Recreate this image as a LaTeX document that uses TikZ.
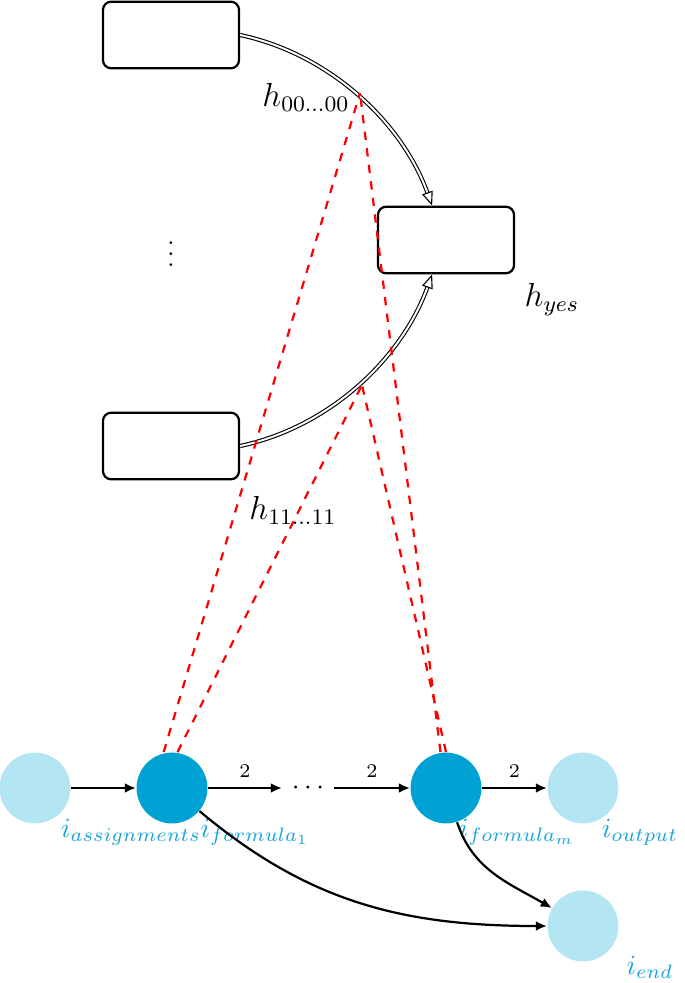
\documentclass[tikz,border=0pt]{standalone}
\usetikzlibrary{arrows.meta}
\definecolor{lightb}{HTML}{B3E5F2}
\definecolor{darkb}{HTML}{00A2D3}
\definecolor{labb}{HTML}{1AA3D6}
\begin{document}
\begin{tikzpicture}[x=0.36pt,y=-0.36pt,
  hbox/.style={draw,thick,rounded corners=3pt,minimum width=49pt,minimum height=24pt,inner sep=0pt},
  lcirc/.style={circle,fill=lightb,minimum size=25.5pt,inner sep=0pt},
  dcirc/.style={circle,fill=darkb,minimum size=25.5pt,inner sep=0pt},
  ilab/.style={text=labb,font=\normalsize},
  arr/.style={-{Latex[length=4pt,width=3.5pt]},thick},
  dbl/.style={double,double distance=0.7pt,-{Triangle[open,length=5pt,width=4pt]}},
  reddash/.style={draw=red,dashed,thick}]
\useasboundingbox (0,0) rectangle (685,983);
\node[hbox] (b1) at (171,35) {};
\node[hbox] (by) at (446,240) {};
\node[hbox] (b2) at (171,446) {};
\node[font=\small] (vd) at (171,246) {$\vdots$};
\node[font=\large] (l1) at (306,97) {$h_{00\ldots00}$};
\node[font=\large] (ly) at (552,300) {$h_{yes}$};
\node[font=\large] (l2) at (293,510) {$h_{11\ldots11}$};
\draw[dbl] (b1.east) to[out=-12,in=110,looseness=0.9] ([xshift=-5pt]by.north);
\draw[dbl] (b2.east) to[out=12,in=-110,looseness=0.9] ([xshift=-5pt]by.south);
\coordinate (p1) at (360,93);
\coordinate (p2) at (362,385);
\node[lcirc] (a) at (35,788) {};
\node[dcirc] (f1) at (172,788) {};
\node (dots) at (308,788) {$\cdots$};
\node[dcirc] (fm) at (446,788) {};
\node[lcirc] (out) at (583,788) {};
\node[lcirc] (end) at (583,926) {};
\node[ilab] (la) at (131,832) {$i_{assignments}$};
\node[ilab] (lf1) at (255,832) {$i_{formula_1}$};
\node[ilab] (lfm) at (517,832) {$i_{formula_m}$};
\node[ilab] (lo) at (640,832) {$i_{output}$};
\node[ilab] (le) at (650,967) {$i_{end}$};
\draw[arr] (a) -- (f1);
\draw[arr] (f1) -- node[above,font=\scriptsize] {2} (dots);
\draw[arr] (dots) -- node[above,font=\scriptsize] {2} (fm);
\draw[arr] (fm) -- node[above,font=\scriptsize] {2} (out);
\draw[arr] (f1) to[out=-40,in=180] (end);
\draw[arr] (fm) to[out=-72,in=150] (end);
\draw[reddash] ([xshift=-3pt]f1.north) -- (p1);
\draw[reddash] ([xshift=2pt]f1.north) -- (p2);
\draw[reddash] ([xshift=-2pt]fm.north) -- (p1);
\draw[reddash] ([xshift=0pt]fm.north) -- (p2);
\end{tikzpicture}
\end{document}
